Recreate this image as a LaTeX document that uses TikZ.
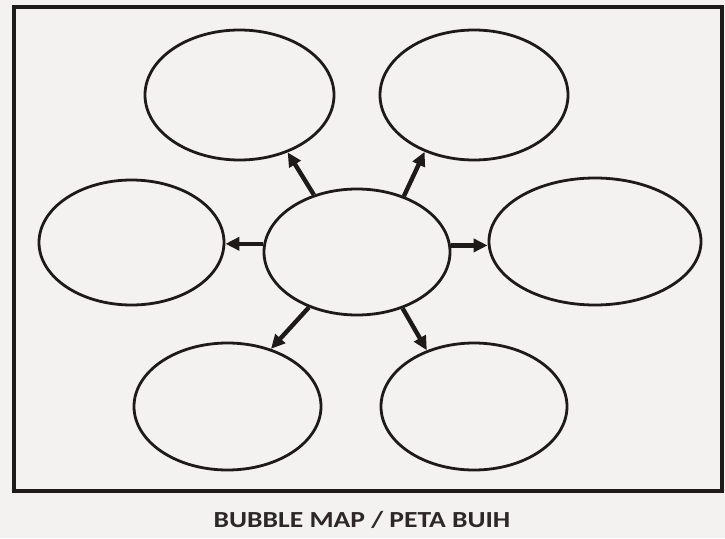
\documentclass[tikz,border=0pt]{standalone}
\usepackage{fontspec}
\setmainfont{Carlito}
\usetikzlibrary{shapes.geometric,arrows.meta}
\definecolor{bg}{RGB}{243,242,241}
\definecolor{ink}{RGB}{30,26,24}
\definecolor{txt}{RGB}{45,40,38}
\begin{document}
\begin{tikzpicture}[x=1pt,y=-1pt,
  bubble/.style={ellipse,draw=ink,line width=2.8pt,inner sep=0pt,fill=bg},
  arr/.style={draw=ink,line width=4.4pt,-{Triangle[length=14pt,width=13pt]}},
  frame/.style={draw=ink,line width=4pt}]
\fill[bg] (0,0) rectangle (725,538);
\useasboundingbox (0,0) rectangle (725,538);
\draw[frame] (14,7) rectangle (722,491);
\node[bubble,minimum width=186pt,minimum height=126pt] (c) at (357,252) {};
\node[bubble,minimum width=189pt,minimum height=130pt] (tl) at (239.5,95) {};
\node[bubble,minimum width=188pt,minimum height=130pt] (tr) at (474,95) {};
\node[bubble,minimum width=185pt,minimum height=125pt] (l) at (131.5,242.5) {};
\node[bubble,minimum width=212pt,minimum height=127pt] (r) at (595,241.5) {};
\node[bubble,minimum width=187pt,minimum height=127pt] (bl) at (227.5,406.5) {};
\node[bubble,minimum width=186pt,minimum height=127pt] (br) at (474,406.5) {};
\draw[arr] (c.127.6) -- (tl.-50.4);
\draw[arr] (c.50.4) -- (tr.-131.7);
\draw[arr] (c.175.7) -- (c.175.7 -| l.east);
\draw[arr] (c.4.3) -- (c.4.3 -| r.west);
\draw[arr] (c.-131.8) -- (bl.53);
\draw[arr] (c.-51) -- (br.130.8);
\node[font=\bfseries\fontsize{23}{26}\selectfont,text=txt,inner sep=0pt,anchor=base,xscale=1.2] (title) at (362,527) {BUBBLE MAP / PETA BUIH};
\end{tikzpicture}
\end{document}
